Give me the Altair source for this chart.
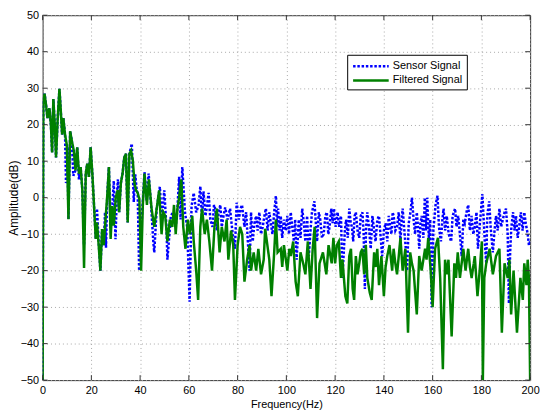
import altair as alt
import pandas as pd

# ---------------- data ----------------
filtered_freq = [
    0, 0.3, 0.8, 1.4, 2.0, 2.8, 3.4, 3.9, 4.4, 5.0,
    5.5, 6.2, 6.9, 7.4, 8.0, 8.5, 9.2, 9.9, 10.6, 11.3,
    12.0, 12.8, 13.5, 14.2, 14.9, 15.6, 16.3, 17.0, 17.7, 18.3,
    19.0, 19.7, 20.4, 21.1, 21.8, 22.3, 23.0, 23.7, 24.4, 25.1,
    25.8, 26.5, 27.2, 27.9, 28.6, 29.2, 30.0, 30.8, 31.4, 32.1,
    32.8, 33.5, 34.2, 34.9, 35.6, 36.3, 37.0, 37.7, 38.3, 39.0,
    39.7, 40.4, 41.1, 41.8, 42.8, 43.6, 44.7, 45.8, 46.8, 47.8,
    48.8, 49.5, 50.3, 51.2, 52.2, 53.2, 53.9, 54.6, 55.3, 56.0,
    56.9, 57.7, 58.6, 59.6, 60.4, 61.4, 62.0, 63.0, 63.8, 64.7,
    65.4, 66.5, 67.4, 68.4, 69.5, 70.5, 71.5, 72.6, 73.5, 74.6,
    75.5, 76.2, 77.3, 78.2, 78.9, 80.0, 81.0, 81.9, 82.8, 83.9,
    84.9, 85.5, 86.6, 87.6, 88.5, 89.6, 90.7, 91.3, 92.2, 93.0,
    93.9, 95.0, 95.7, 96.4, 97.7, 98.3, 99.0, 100.4, 101.2, 101.8,
    102.8, 103.8, 104.7, 105.8, 106.9, 107.8, 108.8, 109.9, 110.8, 111.6,
    112.6, 113.6, 115.0, 116.4, 117.3, 118.6, 119.3, 120.0, 120.7, 121.5,
    122.4, 123.0, 124.2, 125.0, 125.8, 126.5, 127.2, 127.8, 128.5, 129.2,
    129.9, 130.5, 131.2, 131.9, 132.6, 133.2, 134.2, 135.0, 136.0, 136.6,
    137.3, 138.0, 139.0, 140.0, 140.7, 141.4, 142.3, 143.4, 144.0, 144.7,
    145.4, 146.8, 147.7, 148.8, 149.9, 150.8, 151.5, 152.2, 153.5, 154.5,
    155.5, 156.9, 157.5, 158.2, 159.2, 160.0, 161.0, 162.2, 163.1, 164.2,
    165.1, 165.8, 166.5, 167.8, 168.9, 169.6, 170.3, 171.2, 172.6, 173.5,
    174.6, 175.3, 176.0, 177.3, 178.4, 179.3, 180.2, 180.6, 181.2, 182.0,
    183.4, 184.7, 186.0, 187.4, 188.4, 189.5, 190.8, 191.5, 192.2, 193.2,
    194.6, 196.0, 197.0, 197.6, 198.5, 199.0, 199.5, 200.0,
]
filtered_amp = [
    -50, 26, 28.5, 25.4, 21.8, 24.5, 20, 12.4, 27, 20,
    11, 21.8, 29.8, 24.5, 17.3, 21.8, 17.3, 14.6, -5.9, 18.2,
    15.5, 12.9, 7.5, 13.8, 6.6, 8.4, 2.1, -19.3, 6.6, 9.3,
    5.7, 13.8, 6.6, -2.3, -11.3, -6.8, -13, -20, -8.6, -13,
    -5.9, 0.4, 8.4, -11.3, -2.3, -7.7, 0, 2.1, -4, 4,
    6.6, 11, 12, -6.8, 12, 12.9, 10.2, 4, 2.1, 1.3,
    -0.4, -20, -2.3, 6.6, -2, 5, -3, -8, -3, 2,
    -10, -4, -5, -12, -6, -8, -2, -10, -3, 0,
    5, -8, -14, -6, -10, -5, -12, -20, -28, -8,
    -3, -10, -6, -12, -20, -8, -3, -15, -8, -12,
    -6, -17, -9, -13, -28, -13, -8, -10, -23, -17,
    -13, -20, -15, -20, -14, -21, -17, -8.5, -13, -17,
    -27, -15, -6, -15, -14, -19, -13, -20, -14, -16,
    -12, -23, -27, -15, -18, -21, -12, -25, -14, -8,
    -33, -18, -15, -21, -13, -18, -11, -18, -13, -12,
    -22, -17, -27, -29, -16, -14, -25, -28, -16, -21,
    -18, -15, -14, -21, -13, -22, -26, -28, -15, -19,
    -14, -24, -16, -27, -19, -16, -13, -20, -14, -18,
    -21, -11, -20, -14, -37, -15, -18, -20, -32, -16,
    -20, -14, -17, -11, -20, -30, -14, -11, -22, -47,
    -17, -21, -17, -38, -18, -22, -15, -22, -14, -20,
    -14, -19, -22, -16, -27, -20, -12, -50, -22, -18,
    -14, -21, -16, -14, -37, -18, -22, -17, -32, -20,
    -37, -22, -28, -18, -24, -17, -22, -50,
]

sensor_freq = [
    0, 0.3, 0.8, 1.4, 2.0, 2.8, 3.4, 3.9, 4.4, 5.0,
    5.5, 6.2, 6.9, 7.4, 8.0, 8.5, 9.2, 9.6, 10.2, 10.6,
    11.3, 12.0, 12.6, 13.5, 14.2, 14.9, 15.6, 16.3, 17.0, 17.7,
    18.3, 19.0, 19.7, 20.4, 21.1, 21.8, 22.3, 23.0, 23.7, 24.4,
    25.1, 25.6, 26.0, 26.5, 27.2, 27.9, 28.6, 29.2, 29.9, 30.4,
    30.9, 31.4, 32.1, 32.8, 33.5, 34.2, 34.9, 35.6, 36.6, 37.4,
    38.0, 38.6, 39.0, 39.6, 41.0, 41.8, 42.7, 43.5, 44.5, 45.4,
    45.8, 46.8, 48.1, 48.9, 49.9, 50.8, 51.2, 52.6, 53.5, 54.6,
    55.3, 56.0, 56.6, 57.3, 58.4, 59.3, 60.3, 61.1, 62.0, 63.0,
    64.0, 64.7, 65.4, 66.0, 66.8, 67.5, 68.1, 68.8, 69.7, 70.3,
    70.8, 71.5, 72.2, 72.9, 73.5, 74.2, 74.9, 75.9, 76.9, 77.5,
    78.0, 78.9, 79.6, 80.5, 81.2, 81.8, 82.8, 83.5, 84.2, 84.9,
    85.5, 86.2, 86.9, 87.6, 88.2, 88.9, 89.6, 90.3, 91.0, 91.6,
    92.3, 93.0, 93.6, 94.3, 95.0, 95.7, 96.2, 96.6, 97.2, 97.7,
    98.3, 99.0, 99.7, 100.4, 101.1, 101.8, 102.4, 103.1, 103.6, 104.2,
    105.1, 105.8, 106.5, 107.2, 107.8, 108.5, 109.2, 110.0, 110.5, 111.5,
    112.1, 112.6, 113.3, 113.9, 114.6, 115.3, 116.0, 116.6, 117.2, 117.7,
    118.4, 119.0, 119.5, 120.2, 121.0, 121.6, 122.4, 123.0, 124.0, 124.5,
    125.2, 125.8, 126.4, 126.9, 127.4, 128.0, 128.5, 129.2, 129.9, 130.5,
    131.2, 131.7, 132.2, 132.7, 133.2, 134.0, 134.6, 135.3, 136.0, 136.6,
    137.3, 138.0, 138.7, 139.3, 140.0, 140.7, 141.4, 142.0, 142.6, 143.1,
    143.6, 144.0, 144.7, 145.4, 146.1, 146.8, 147.3, 147.7, 148.4, 149.0,
    149.5, 150.2, 150.9, 151.5, 152.2, 152.8, 153.5, 154.0, 154.5, 155.0,
    155.5, 156.2, 156.8, 157.3, 157.8, 158.5, 159.0, 159.6, 160.3, 161.2,
    162.0, 162.6, 163.4, 164.0, 164.5, 165.1, 165.8, 166.6, 167.6, 168.2,
    169.2, 169.8, 170.5, 171.2, 171.9, 172.6, 173.2, 173.9, 174.6, 175.3,
    176.0, 176.7, 177.3, 178.0, 178.6, 179.4, 180.4, 181.4, 182.0, 182.4,
    183.2, 183.8, 184.7, 185.4, 186.0, 186.7, 187.4, 188.1, 188.8, 189.5,
    190.1, 190.8, 191.3, 191.8, 192.3, 193.0, 193.6, 194.2, 194.9, 195.5,
    196.2, 196.9, 197.6, 198.2, 199.0, 199.5, 200.0,
]
sensor_amp = [
    -50, 26, 28.5, 25.4, 21.8, 24.5, 20, 12.4, 27, 20,
    11, 21.8, 29.8, 24.5, 17.3, 21.8, 17.3, 4, 14, -5.9,
    18.2, 15.5, 6, 7.5, 13.8, 5, 8.4, 2.1, -13, 6.6,
    9.3, 5.7, 13.8, 6.6, -2.3, -11.3, -3, -12, -20, -8.6,
    -13, -4, -13.7, 0.4, 8.4, -8.4, -2.3, 4.6, -11.4, 0,
    5, -4, 4, 6.6, 11, 12, -6.8, 12, 14.8, -1.2,
    6.4, 2, 1.3, -20, -2, 7, -1, 6.6, -2, -12,
    -15, -3, 3, -6, 2, -8, -17, -5, -4, -8,
    -3, 5.7, -6, 8.4, -4, -8, -28.5, -2.3, 1.3, -4,
    -2, 3.1, -6, 1.7, -5, -2, 1.3, -6, -8, -2,
    -3, -9, -4, -2, -8, -5, -2.7, -6, -3, -7,
    -10, -14, -1.4, -6, -3, -2, -8, -4, -12, -20,
    -4, -12, -7, -5, -9, -4, -10, -8, -5, -3,
    -9, -4, -7, -10, -4, 0.5, -8, -3, -9, -5,
    -11, -6, -9, -5, -10, -4, -8, -12, -6, -17,
    -6, -11, -3, -7, -12, -5, -16, -8, -4, -1,
    -7, -12, -4, -6, -11, -10, -5, -4, -10, -8,
    -3, -7, -3, -8, -4, -8, -5, -22, -9, -6,
    -11, -3, -7, -8, -12, -5, -4, -9, -11, -5,
    -4, -10, -25, -8, -4, -9, -14, -5, -9, -12,
    -6, -5, -11, -16, -9, -7, -12, -5, -8, -10,
    -4, -5, -9, -8, -4, -12, -6, -3, -9, -14,
    -20, -7, -4, 0, -6, -10, -4, -8, -14, -7,
    -5, -11, 0, -9, 0, -12, -6, -30, -9, -2,
    0.5, -8, -12, -6, -3, -9, -5, -10, -12, -5,
    -3, -8, -5, -10, -16, -6, -7, -4, -2, -9,
    -5, -10, -8, -4, -14, -7, 1, -12, -18, -5,
    -1, -8, -15, -9, -5, -9, -3, -8, -6, -4,
    -3, -10, -29, -15, -8, -4, -9, -5, -11, -8,
    -4, -9, -4, -7, -10, -13, -12,
]

series_names = ["Sensor Signal", "Filtered Signal"]
series_colors = ["#0000ff", "#008000"]
series_dashes = [[2.5, 1.8], [1, 0]]
x_ticks = [0, 20, 40, 60, 80, 100, 120, 140, 160, 180, 200]
y_ticks = [-50, -40, -30, -20, -10, 0, 10, 20, 30, 40, 50]

# ---------------- build chart ----------------
n_s = min(len(sensor_freq), len(sensor_amp))
n_f = min(len(filtered_freq), len(filtered_amp))
df = pd.concat([
    pd.DataFrame({"freq": sensor_freq[:n_s], "amp": sensor_amp[:n_s],
                  "series": series_names[0], "idx": range(n_s)}),
    pd.DataFrame({"freq": filtered_freq[:n_f], "amp": filtered_amp[:n_f],
                  "series": series_names[1], "idx": range(n_f)}),
], ignore_index=True)

W, H = 493, 369
FONT = "Liberation Sans"
AXC = "#333333"

xscale = alt.Scale(domain=[0, 200], nice=False, zero=False)
yscale = alt.Scale(domain=[-50, 50], nice=False, zero=False)

# short horizontal stroke, offset to the right of the symbol centre, so the
# legend rows keep a small height while the sample line is long
legend_def = alt.Legend(
    title=None, orient="none", legendX=308, legendY=40,
    symbolType="M-0.92,0H5.08", symbolSize=144, symbolStrokeWidth=2.5,
    symbolFillColor="transparent",
    labelFont=FONT, labelFontSize=11, labelColor="black", labelOffset=27,
    padding=4, rowPadding=1.5, strokeColor="black", fillColor="white",
    cornerRadius=0,
)

color = alt.Color("series:N", scale=alt.Scale(domain=series_names, range=series_colors),
                  legend=legend_def)
dash = alt.StrokeDash("series:N", scale=alt.Scale(domain=series_names, range=series_dashes),
                      legend=legend_def)

x_enc = alt.X("freq:Q", scale=xscale, title="Frequency(Hz)",
              axis=alt.Axis(values=x_ticks, grid=True, gridDash=[1, 3], gridColor="#a8a8a8",
                            tickSize=0, domain=False, labelPadding=5, labelFont=FONT,
                            labelFontSize=11, labelColor="black", titleFont=FONT,
                            titleFontSize=11, titleFontWeight="normal", titleColor="black",
                            titlePadding=3, labelFlush=False, minExtent=0))
y_enc = alt.Y("amp:Q", scale=yscale, title="Amplitude(dB)",
              axis=alt.Axis(values=y_ticks, grid=True, gridDash=[1, 3], gridColor="#a8a8a8",
                            tickSize=0, domain=False, labelPadding=4, labelFont=FONT,
                            labelFontSize=11, labelColor="black", titleFont=FONT,
                            titleFontSize=12, titleFontWeight="normal", titleColor="black",
                            titleX=-29, titleY=H / 2, titleAngle=270,
                            titleAlign="center", titleBaseline="middle",
                            labelFlush=False, minExtent=0))

base = alt.Chart(df)
sensor = base.transform_filter(alt.datum.series == series_names[0]).mark_line(
    strokeWidth=2.5, clip=True, strokeCap="butt").encode(
    x=x_enc, y=y_enc, color=color, strokeDash=dash, order="idx:Q")
filtered = base.transform_filter(alt.datum.series == series_names[1]).mark_line(
    strokeWidth=2.5, clip=True).encode(
    x=x_enc, y=y_enc, color=color, strokeDash=dash, order="idx:Q")

# inside tick marks on all four sides, positioned through the shared scales
xt = pd.DataFrame({"freq": x_ticks})
yt = pd.DataFrame({"amp": y_ticks})
tick_style = dict(color=AXC, strokeWidth=1)
xt_bottom = alt.Chart(xt).mark_rule(**tick_style).encode(
    x=x_enc, y=alt.value(H), y2=alt.value(H - 5))
xt_top = alt.Chart(xt).mark_rule(**tick_style).encode(
    x=x_enc, y=alt.value(0), y2=alt.value(5))
yt_left = alt.Chart(yt).mark_rule(**tick_style).encode(
    y=y_enc, x=alt.value(0), x2=alt.value(5))
yt_right = alt.Chart(yt).mark_rule(**tick_style).encode(
    y=y_enc, x=alt.value(W), x2=alt.value(W - 5))

chart = alt.layer(sensor, filtered, xt_bottom, xt_top, yt_left, yt_right).properties(
    width=W, height=H,
    autosize=alt.AutoSizeParams(type="none"),
    padding={"left": 35, "top": 5, "right": 12, "bottom": 36},
    background="white",
).configure_view(stroke=AXC, strokeWidth=1)

chart.save("out.html", embed_options={"renderer": "svg", "actions": False})
